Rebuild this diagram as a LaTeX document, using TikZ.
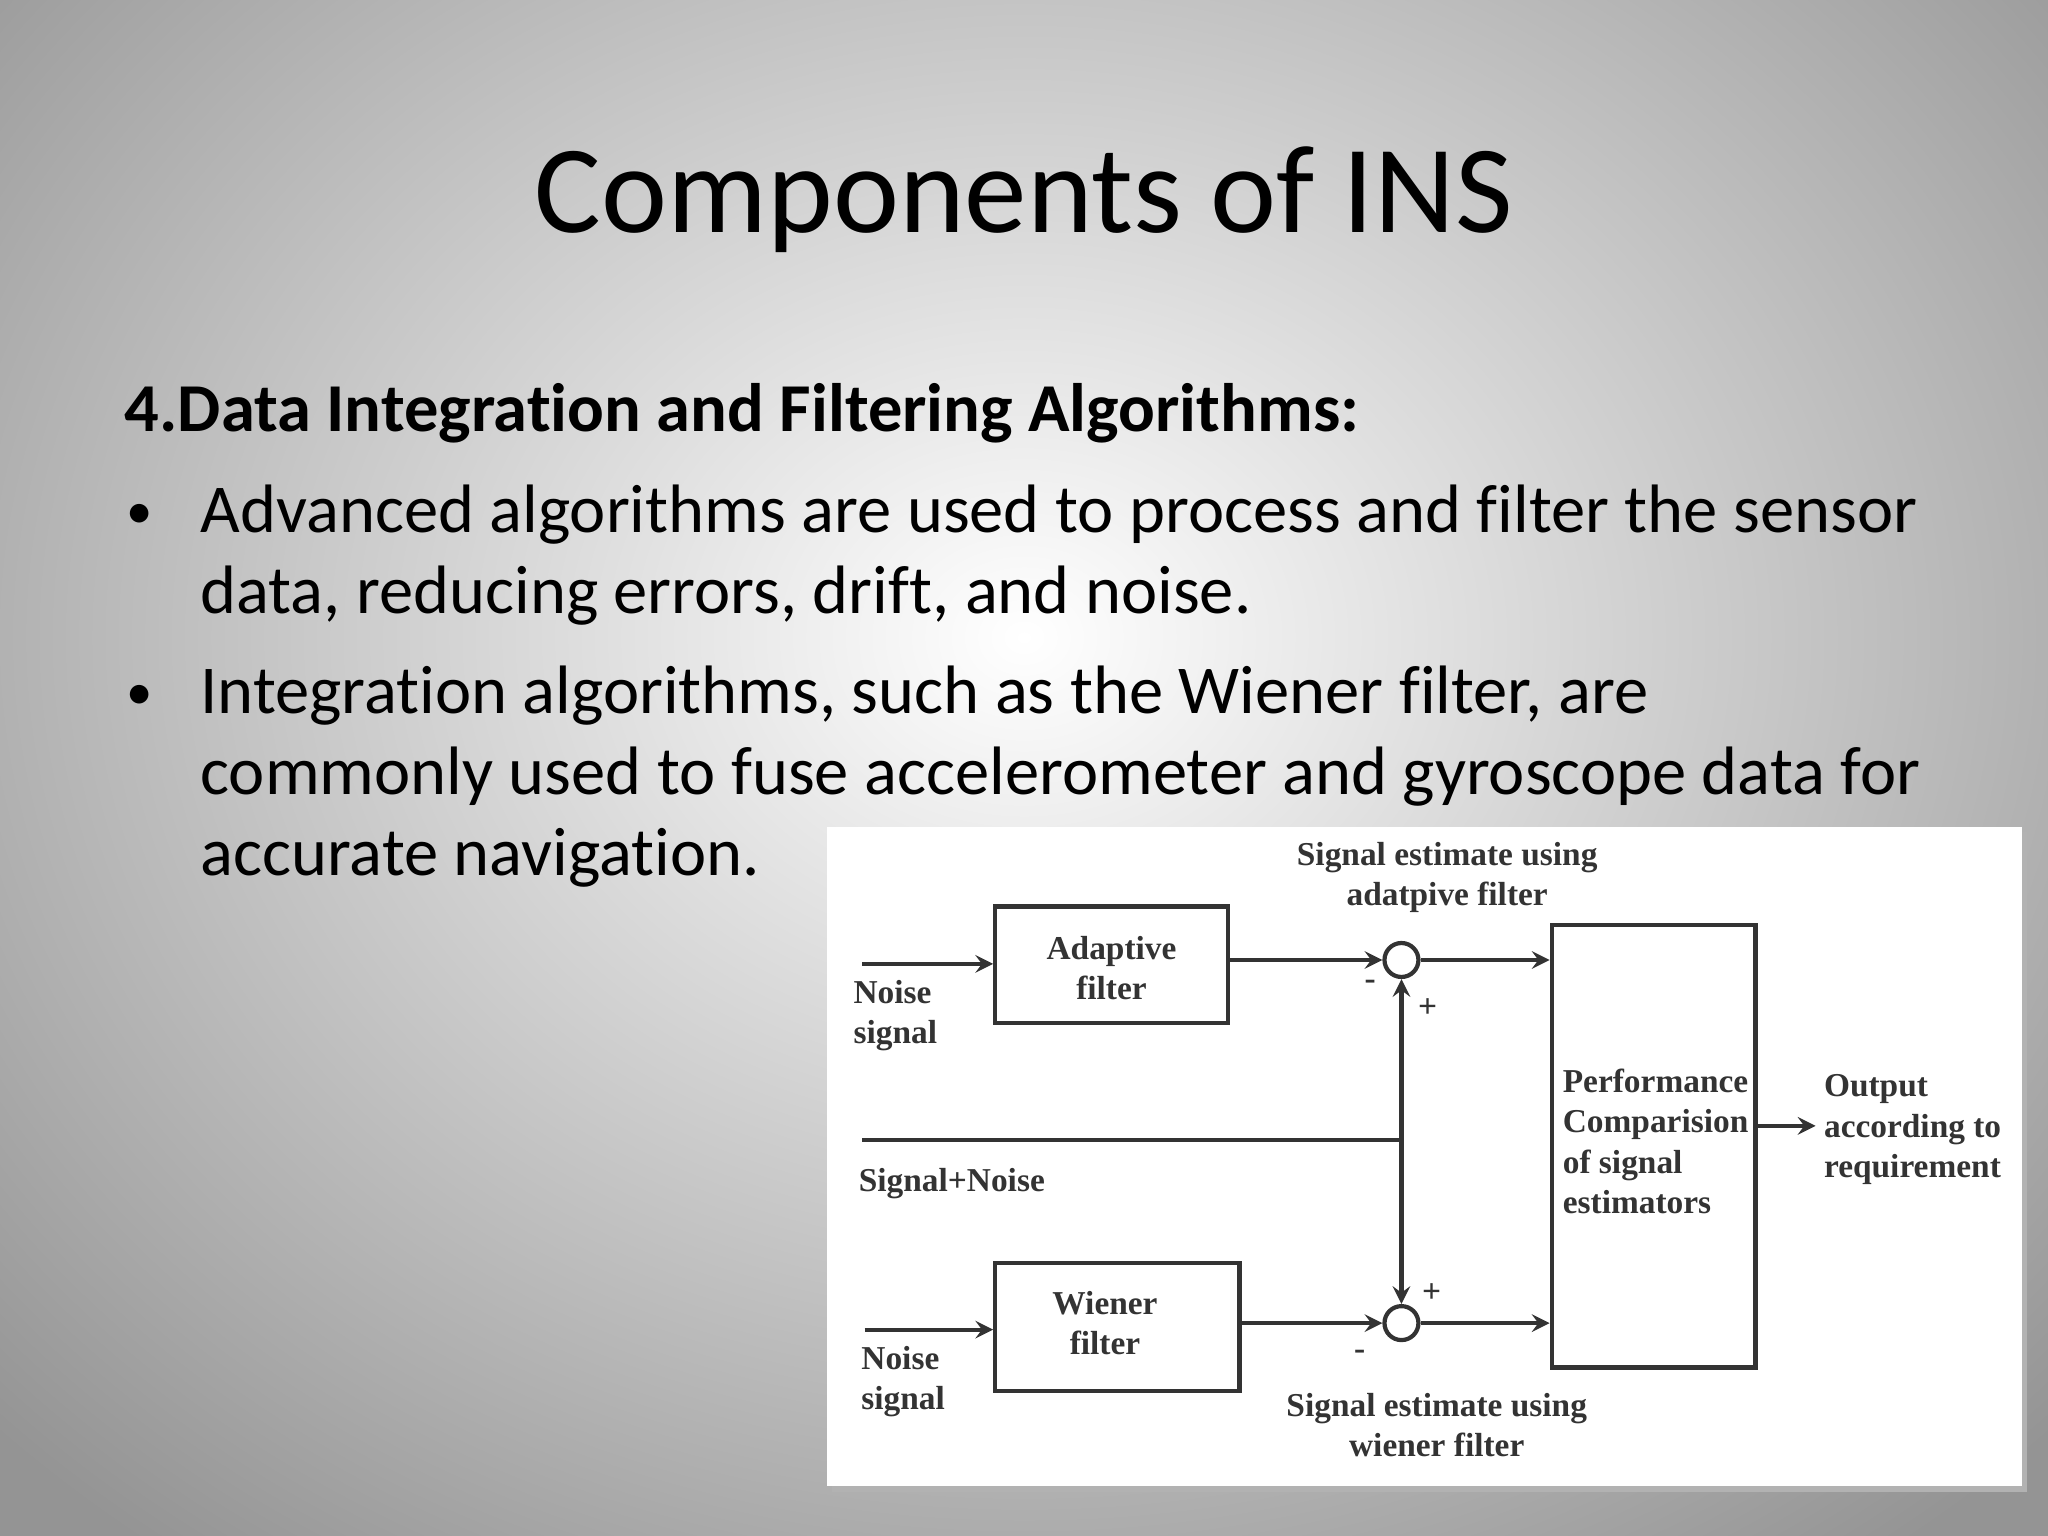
\documentclass[tikz,border=0pt]{standalone}
\usepackage{fontspec}
\setmainfont[Ligatures={NoCommon}]{Carlito}
\newfontfamily\diagfont{Liberation Serif}
\begin{document}
\begin{tikzpicture}[x=0.013061cm,y=-0.013061cm,
  body/.style={anchor=base west,inner sep=0pt,font=\fontsize{19.5}{24}\selectfont},
  bul/.style={anchor=base west,inner sep=0pt,font=\fontsize{15}{24}\selectfont},
  dtxt/.style={font=\diagfont\bfseries\fontsize{9.5}{11.5}\selectfont,text=black!80,inner sep=0pt},
  blk/.style={draw=black!80,line width=1.2pt},
  sig/.style={draw=black!80,line width=1.2pt},
  arr/.style={sig,->,>=stealth}]
\useasboundingbox (0,0) rectangle (1568,1176);
\shade[inner color=white,outer color=black!42] (-300,-400) rectangle (1868,1376);
\clip (0,0) rectangle (1568,1176);
\node[anchor=base,font=\fontsize{35.6}{42}\selectfont] (title) at (784,178) {Components of INS};
\node[body,font=\bfseries\fontsize{19.5}{24}\selectfont] (h) at (95,330) {4.Data Integration and Filtering Algorithms:};
\node[bul] (b1) at (96,405) {•};
\node[body] (l1) at (153,408) {Advanced algorithms are used to process and filter the sensor};
\node[body] (l2) at (153,470) {data, reducing errors, drift, and noise.};
\node[bul] (b2) at (96,543) {•};
\node[body] (l3) at (153,546) {Integration algorithms, such as the Wiener filter, are};
\node[body] (l4) at (153,608) {commonly used to fuse accelerometer and gyroscope data for};
\node[body] (l5) at (153,670) {accurate navigation.};
% diagram panel
\fill[black!30] (637,637) rectangle (1552,1142);
\fill[white] (633,633) rectangle (1548,1138);
\node[blk,minimum width=178*0.013061cm,minimum height=89*0.013061cm] (af) at (851,738.5) {};
\node[dtxt,align=center] at (851,741) {Adaptive\\filter};
\node[blk,minimum width=187*0.013061cm,minimum height=98*0.013061cm] (wf) at (855.5,1016) {};
\node[dtxt,align=center] at (846,1013) {Wiener\\filter};
\node[blk,minimum width=156*0.013061cm,minimum height=339*0.013061cm] (pc) at (1266,877.5) {};
\node[dtxt,align=left,anchor=west] at (1196,874) {Performance\\Comparision\\of signal\\estimators};
\node[draw=black!80,line width=1.2pt,circle,minimum size=26*0.013061cm,inner sep=0pt] (c1) at (1073,735) {};
\node[draw=black!80,line width=1.2pt,circle,minimum size=26*0.013061cm,inner sep=0pt] (c2) at (1073,1013) {};
\coordinate (n1) at (660,738);
\coordinate (n2) at (662,1018);
\coordinate (sn) at (660,873);
\coordinate (j) at (1073,873);
\coordinate (o) at (1390,862);
\draw[arr] (n1) -- (af.west |- n1);
\draw[arr] (n2) -- (wf.west |- n2);
\draw[arr] (af.east |- c1) -- (c1.west);
\draw[arr] (wf.east |- c2) -- (c2.west);
\draw[arr] (c1.east) -- (pc.west |- c1);
\draw[arr] (c2.east) -- (pc.west |- c2);
\draw[sig] (sn) -- (j);
\draw[arr] (j) -- (c1.south);
\draw[arr] (j) -- (c2.north);
\draw[arr] (pc.east |- o) -- (o);
\node[dtxt,align=left,anchor=north west] at (653,750) {Noise\\signal};
\node[dtxt,align=left,anchor=north west] at (659,1030) {Noise\\signal};
\node[dtxt,anchor=west] at (657,906) {Signal+Noise};
\node[dtxt,align=left,anchor=west] at (1396,865) {Output\\according to\\requirement};
\node[dtxt,align=center] at (1108,672) {Signal estimate using\\adatpive filter};
\node[dtxt,align=center] at (1100,1091) {Signal estimate using\\wiener filter};
\node[dtxt] at (1049,754) {-};
\node[dtxt] at (1093,772) {+};
\node[dtxt] at (1096,990) {+};
\node[dtxt] at (1041,1037) {-};
\end{tikzpicture}
\end{document}
